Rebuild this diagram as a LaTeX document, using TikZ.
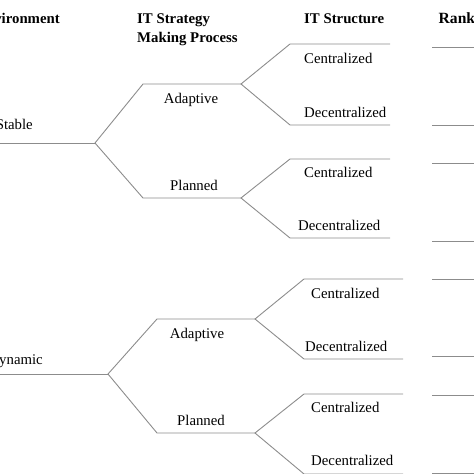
\documentclass[tikz,border=0pt]{standalone}
\usepackage{fontspec}
\setmainfont{Liberation Serif}

\begin{document}
\begin{tikzpicture}[x=1pt, y=-1pt,
            branch/.style={draw=black!45, line width=0.9pt},
            lbl/.style={inner sep=0pt, font=\fontsize{14.8}{19}\selectfont},
            hdr/.style={inner sep=0pt, align=left, font=\fontsize{14.8}{19}\selectfont\bfseries}]
            \useasboundingbox (0,0) rectangle (474,474);
            \clip (0,0) rectangle (474,474);

            % column headers
            \node[hdr, anchor=base east] (env) at (60,23) {Environment};
            \node[hdr, anchor=north west] (strat) at (137,13) {IT Strategy\\Making Process};
            \node[hdr, anchor=base west] (struct) at (304,23) {IT Structure};
            \node[hdr, anchor=base west, font=\fontsize{15.6}{19}\selectfont\bfseries] (rank) at (438.5,23) {Ranking};

            % stable environment
            \coordinate (st0) at (-5,143);
            \coordinate (st1) at (95,143);
            \coordinate (sa0) at (143,84);
            \coordinate (sa1) at (241,84);
            \coordinate (sp0) at (143,198);
            \coordinate (sp1) at (241,198);
            \draw[branch] (st0) -- (st1);
            \draw[branch] (sa1) -- (sa0) -- (st1) -- (sp0) -- (sp1);
            \node[lbl, anchor=base east] (stable) at (33,129) {Stable};
            \node[lbl, anchor=base] (sadapt) at (191,103) {Adaptive};
            \node[lbl, anchor=base] (splan) at (194,190) {Planned};

            \coordinate (sac0) at (290,44);
            \coordinate (sac1) at (390,44);
            \coordinate (sad0) at (290,125);
            \coordinate (sad1) at (390,125);
            \draw[branch] (sac1) -- (sac0) -- (sa1) -- (sad0) -- (sad1);
            \node[lbl, anchor=base west] (sacent) at (304,63) {Centralized};
            \node[lbl, anchor=base west] (sadec) at (304,117) {Decentralized};

            \coordinate (spc0) at (290,159);
            \coordinate (spc1) at (390,159);
            \coordinate (spd0) at (290,238);
            \coordinate (spd1) at (390,238);
            \draw[branch] (spc1) -- (spc0) -- (sp1) -- (spd0) -- (spd1);
            \node[lbl, anchor=base west] (spcent) at (304,177) {Centralized};
            \node[lbl, anchor=base west] (spdec) at (298,230) {Decentralized};

            % dynamic environment
            \coordinate (dy0) at (-5,374);
            \coordinate (dy1) at (108,374);
            \coordinate (da0) at (157,319);
            \coordinate (da1) at (255,319);
            \coordinate (dp0) at (157,433);
            \coordinate (dp1) at (255,433);
            \draw[branch] (dy0) -- (dy1);
            \draw[branch] (da1) -- (da0) -- (dy1) -- (dp0) -- (dp1);
            \node[lbl, anchor=base east] (dynamic) at (43,364) {Dynamic};
            \node[lbl, anchor=base] (dadapt) at (197,338) {Adaptive};
            \node[lbl, anchor=base] (dplan) at (201,425) {Planned};

            \coordinate (dac0) at (304,279);
            \coordinate (dac1) at (403,279);
            \coordinate (dad0) at (304,359);
            \coordinate (dad1) at (403,359);
            \draw[branch] (dac1) -- (dac0) -- (da1) -- (dad0) -- (dad1);
            \node[lbl, anchor=base west] (dacent) at (311,298) {Centralized};
            \node[lbl, anchor=base west] (dadec) at (305,351) {Decentralized};

            \coordinate (dpc0) at (304,394);
            \coordinate (dpc1) at (403,394);
            \coordinate (dpd0) at (304,474);
            \coordinate (dpd1) at (403,474);
            \draw[branch] (dpc1) -- (dpc0) -- (dp1) -- (dpd0) -- (dpd1);
            \node[lbl, anchor=base west] (dpcent) at (311,412) {Centralized};
            \node[lbl, anchor=base west] (dpdec) at (311,465) {Decentralized};

            % blanks for the ranking
            \foreach \y [count=\i] in {47,125,163,241,279,356,395,473} {
                \coordinate (r\i a) at (432,\y);
                \coordinate (r\i b) at (480,\y);
                \draw[branch] (r\i a) -- (r\i b);
            }
        \end{tikzpicture}
\end{document}
